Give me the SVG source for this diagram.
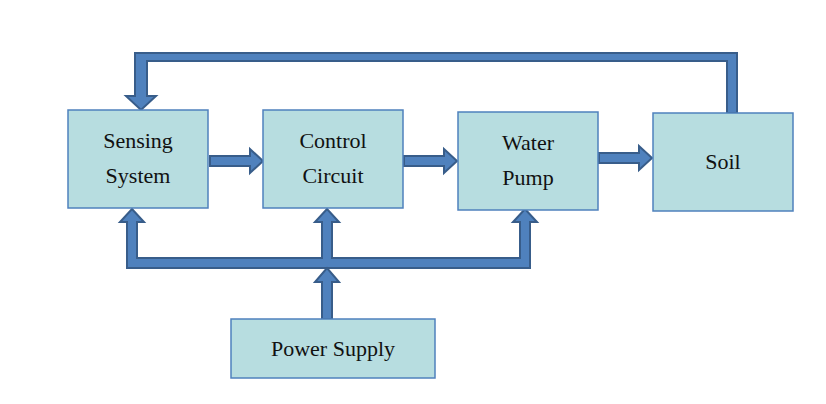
<svg xmlns="http://www.w3.org/2000/svg" width="826" height="404" viewBox="0 0 826 404">
<style>
.box{fill:#b7dde0;stroke:#4f81bd;stroke-width:1.5}
.t{font-family:"Liberation Serif",serif;font-size:22px;fill:#111;text-anchor:middle}
.a{fill:#4f81bd;stroke:#385d8a;stroke-width:2;stroke-linejoin:miter}
</style>
<rect width="826" height="404" fill="#fff"/>
<g id="connectors">
<path class="a" d="M727,113 L727,61 L147,61 L147,96 L156,96 L141,110 L126,96 L135,96 L135,53 L737,53 L737,113 Z"/>
<polygon class="a" points="210,156 250,156 250,149 263,161 250,173 250,166 210,166"/>
<polygon class="a" points="404,156 444,156 444,149 457,161 444,173 444,166 404,166"/>
<polygon class="a" points="599,153 639,153 639,146 652,158 639,170 639,163 599,163"/>
<path class="a" d="M127,268 L127,222 L120,222 L132,209 L144,222 L137,222 L137,258 L322,258 L322,222 L315,222 L327,209 L339,222 L332,222 L332,258 L520,258 L520,222 L513,222 L525,209 L537,222 L530,222 L530,268 Z"/>
<polygon class="a" points="322,319 322,282 315,282 327,268 339,282 332,282 332,319"/>
</g>
<g id="sensing"><rect class="box" x="68" y="110" width="140" height="98"/><text class="t" x="138" y="148">Sensing</text><text class="t" x="138" y="183">System</text></g>
<g id="control"><rect class="box" x="263" y="110" width="140" height="98"/><text class="t" x="333" y="148">Control</text><text class="t" x="333" y="183">Circuit</text></g>
<g id="pump"><rect class="box" x="458" y="112" width="140" height="98"/><text class="t" x="528" y="150">Water</text><text class="t" x="528" y="185">Pump</text></g>
<g id="soil"><rect class="box" x="653" y="113" width="140" height="98"/><text class="t" x="723" y="169">Soil</text></g>
<g id="power"><rect class="box" x="231" y="319" width="204" height="59"/><text class="t" x="333" y="356">Power Supply</text></g>
</svg>
